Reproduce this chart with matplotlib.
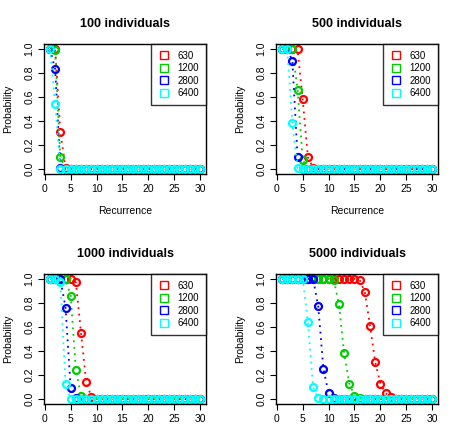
import matplotlib
matplotlib.use('Agg')
import matplotlib.pyplot as plt

plt.rcParams['font.family'] = ['Liberation Sans', 'DejaVu Sans']

recurrence = list(range(1, 31))
labels = ['630', '1200', '2800', '6400']
colors = ['#FF0000', '#00CD00', '#0000FF', '#00FFFF']

def pad(vals):
    return vals + [0.0] * (30 - len(vals))

# probability per recurrence, one list per size
p100 = [
    pad([1.0, 1.0, 0.31, 0.01]),
    pad([1.0, 0.99, 0.10]),
    pad([1.0, 0.83, 0.01]),
    pad([1.0, 0.54, 0.0]),
]
p500 = [
    pad([1.0, 1.0, 1.0, 0.995, 0.58, 0.10, 0.01]),
    pad([1.0, 1.0, 1.0, 0.66, 0.08]),
    pad([1.0, 1.0, 0.90, 0.10]),
    pad([1.0, 1.0, 0.38, 0.01]),
]
p1000 = [
    pad([1.0, 1.0, 1.0, 1.0, 1.0, 0.97, 0.55, 0.14, 0.02]),
    pad([1.0, 1.0, 1.0, 1.0, 0.86, 0.24, 0.03]),
    pad([1.0, 1.0, 1.0, 0.76, 0.09, 0.01]),
    pad([1.0, 1.0, 0.97, 0.13]),
]
p5000 = [
    pad([1.0] * 15 + [0.99, 0.89, 0.61, 0.31, 0.13, 0.05, 0.02, 0.005]),
    pad([1.0] * 10 + [0.99, 0.79, 0.38, 0.13, 0.03, 0.01]),
    pad([1.0] * 7 + [0.77, 0.25, 0.05, 0.01]),
    pad([1.0] * 5 + [0.64, 0.10, 0.01]),
]

titles = ['100 individuals', '500 individuals', '1000 individuals', '5000 individuals']
data = [p100, p500, p1000, p5000]

fig = plt.figure(figsize=(4.74, 4.29), dpi=100)
lefts = [0.0928, 0.5823, 0.0928, 0.5823]
bottoms = [0.5944, 0.5944, 0.0583, 0.0583]

for i in range(4):
    ax = fig.add_axes([lefts[i], bottoms[i], 0.3420, 0.3030])
    for s in range(4):
        ax.plot(recurrence, data[i][s], color=colors[s], linestyle=(0, (1, 2.6)),
                linewidth=1.3, marker='o', markersize=5, markerfacecolor='none',
                markeredgewidth=1.6, label=labels[s])
    ax.set_xlim(-0.16, 31.16)
    ax.set_ylim(-0.04, 1.04)
    ax.set_xticks([0, 5, 10, 15, 20, 25, 30])
    ax.set_yticks([0.0, 0.2, 0.4, 0.6, 0.8, 1.0])
    ax.set_yticklabels(['0.0', '0.2', '0.4', '0.6', '0.8', '1.0'], rotation=90, va='center')
    ax.tick_params(direction='out', length=4, width=0.8, labelsize=7.5, pad=3)
    for sp in ax.spines.values():
        sp.set_linewidth(1.0)
    ax.set_title(titles[i], fontsize=9, fontweight='bold', pad=12)
    if i < 2:
        # bottom row labels fall off the canvas in the original
        ax.set_xlabel('Recurrence', fontsize=7.5, labelpad=9)
    ax.set_ylabel('Probability', fontsize=7.5, labelpad=8)
    handles = [plt.Line2D([], [], linestyle='none', marker='s', markersize=6,
                          markerfacecolor='none', markeredgecolor=c, markeredgewidth=1)
               for c in colors]
    leg = ax.legend(handles, labels, loc='upper right', fontsize=7, frameon=True,
                    fancybox=False, borderaxespad=0, handletextpad=0.8,
                    borderpad=0.7, labelspacing=0.25, handlelength=1.2)
    leg.get_frame().set_edgecolor('black')
    leg.get_frame().set_linewidth(1.0)

fig.savefig('out.png', dpi=100)
